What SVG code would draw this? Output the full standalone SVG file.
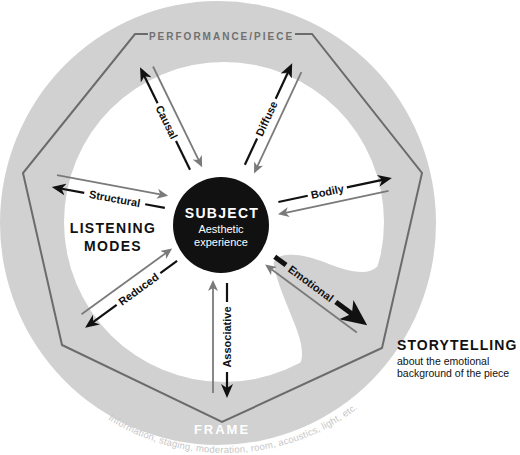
<svg xmlns="http://www.w3.org/2000/svg" width="520" height="455" viewBox="0 0 520 455">
<defs>
<style>
text{font-family:"Liberation Sans",Arial,Helvetica,sans-serif}
.ml{font-size:11px;font-weight:bold;fill:#111;text-anchor:middle}
.bk{stroke:#111;stroke-width:2.2;fill:none}
.gr{stroke:#7a7a7a;stroke-width:1.8;fill:none}
.big{stroke:#111;stroke-width:5;fill:none}
.hd{font-weight:bold;fill:#111}
</style>
<marker id="hb" viewBox="-14 -6 14 12" refX="-6" refY="0" markerWidth="14" markerHeight="12" markerUnits="userSpaceOnUse" orient="auto"><path d="M0,0 L-14,-6 L-10,0 L-14,6 Z" fill="#111"/></marker>
<marker id="hg" viewBox="-11 -5 11 10" refX="-4" refY="0" markerWidth="11" markerHeight="10" markerUnits="userSpaceOnUse" orient="auto"><path d="M0,0 L-11,-5 L-8,0 L-11,5 Z" fill="#7a7a7a"/></marker>
<marker id="hB" viewBox="-26 -12 26 24" refX="-12" refY="0" markerWidth="26" markerHeight="24" markerUnits="userSpaceOnUse" orient="auto"><path d="M0,0 L-26,-12 L-19,0 L-26,12 Z" fill="#111"/></marker>
<path id="arc" d="M25.6,326 A220,220 0 0,0 431.7,308.2"/>
</defs>
<rect width="520" height="455" fill="#fff"/>
<g id="frame">
<ellipse cx="218" cy="223" rx="218" ry="222" fill="#d1d1d1"/>
<circle cx="224" cy="222" r="160" fill="#fff"/>
<path id="storytelling-bulge" d="M384,236 C386,258 380,272 362,272 C340,272 318,256 295,255 C283,254 272,257 274,266 C277,282 286,302 295,325 C302,343 306,360 296,370 C288,378 276,382 264,392 L330,405 L420,300 L400,230 Z" fill="#d1d1d1"/>
<path d="M148,34 L135,34 L23,173 L62,345 L222,422 L382,348 L422,173 L312,34 L295,34" fill="none" stroke="#6b6b6b" stroke-width="2"/>
<text x="221.5" y="39.5" font-size="10" font-weight="bold" fill="#707070" text-anchor="middle" letter-spacing="2">PERFORMANCE/PIECE</text>
<text x="222" y="434" font-size="13" font-weight="bold" fill="#fff" text-anchor="middle" letter-spacing="2">FRAME</text>
<text font-size="9.5" fill="#c6c6c6"><textPath href="#arc" startOffset="259" text-anchor="middle" textLength="266">Information, staging, moderation, room, acoustics, light, etc.</textPath></text>
</g>
<g id="subject">
<circle cx="221" cy="225" r="48" fill="#111"/>
<text x="222" y="217.5" font-size="14" font-weight="bold" fill="#fff" text-anchor="middle" letter-spacing="1.3">SUBJECT</text>
<text x="221" y="233" font-size="11" fill="#fff" text-anchor="middle">Aesthetic</text>
<text x="221" y="245.5" font-size="11" fill="#fff" text-anchor="middle">experience</text>
</g>
<g id="listening-modes">
<text x="113" y="233" font-size="14" class="hd" text-anchor="middle" letter-spacing="1.3">LISTENING</text>
<text x="113" y="251" font-size="14" class="hd" text-anchor="middle" letter-spacing="1.3">MODES</text>
</g>
<g id="storytelling">
<text x="397" y="350" font-size="14" class="hd" letter-spacing="1.1">STORYTELLING</text>
<text x="397" y="365" font-size="10.5" fill="#111">about the emotional</text>
<text x="397" y="377" font-size="10.5" fill="#111">background of the piece</text>
</g>
<g id="connectors">
<g id="causal" transform="translate(166.8,122.1) rotate(64)">
<line class="bk" x1="21" y1="0" x2="53" y2="0"/>
<line class="bk" x1="-21" y1="0" x2="-55" y2="0" marker-end="url(#hb)"/>
<line class="gr" x1="-56" y1="-12" x2="52" y2="-12" marker-end="url(#hg)"/>
<text class="ml" x="0" y="4">Causal</text>
</g>
<g id="diffuse" transform="translate(266.4,118.6) rotate(-65)">
<line class="bk" x1="-51" y1="0" x2="-22" y2="0"/>
<line class="bk" x1="22" y1="0" x2="55" y2="0" marker-end="url(#hb)"/>
<line class="gr" x1="57" y1="12" x2="-51" y2="12" marker-end="url(#hg)"/>
<text class="ml" x="0" y="4">Diffuse</text>
</g>
<g id="bodily" transform="translate(327.3,191.6) rotate(-12)">
<line class="bk" x1="-50" y1="0" x2="-20" y2="0"/>
<line class="bk" x1="20" y1="0" x2="60" y2="0" marker-end="url(#hb)"/>
<line class="gr" x1="60" y1="12" x2="-49" y2="12" marker-end="url(#hg)"/>
<text class="ml" x="0" y="4">Bodily</text>
</g>
<g id="emotional" transform="translate(310.9,283.5) rotate(36.5)">
<line class="big" x1="-45" y1="0" x2="-31" y2="0"/>
<line class="big" x1="31" y1="0" x2="58" y2="0" marker-end="url(#hB)"/>
<line class="gr" x1="66" y1="12" x2="-44" y2="12" marker-end="url(#hg)"/>
<text class="ml" x="0" y="4">Emotional</text>
</g>
<g id="associative" transform="translate(227,337) rotate(-90)">
<line class="bk" x1="54" y1="0" x2="35" y2="0"/>
<line class="bk" x1="-35" y1="0" x2="-55" y2="0" marker-end="url(#hb)"/>
<line class="gr" x1="-56" y1="-14" x2="53" y2="-14" marker-end="url(#hg)"/>
<text class="ml" x="0" y="4">Associative</text>
</g>
<g id="reduced" transform="translate(138.5,289) rotate(-36)">
<line class="bk" x1="47.7" y1="0" x2="27" y2="0"/>
<line class="bk" x1="-27" y1="0" x2="-60" y2="0" marker-end="url(#hb)"/>
<line class="gr" x1="-61" y1="-13" x2="47" y2="-13" marker-end="url(#hg)"/>
<text class="ml" x="0" y="4">Reduced</text>
</g>
<g id="structural" transform="translate(114.7,198.6) rotate(10.5)">
<line class="bk" x1="51" y1="0" x2="31" y2="0"/>
<line class="bk" x1="-31" y1="0" x2="-58" y2="0" marker-end="url(#hb)"/>
<line class="gr" x1="-61" y1="-12.5" x2="48" y2="-12.5" marker-end="url(#hg)"/>
<text class="ml" x="0" y="4">Structural</text>
</g>
</g>
</svg>
